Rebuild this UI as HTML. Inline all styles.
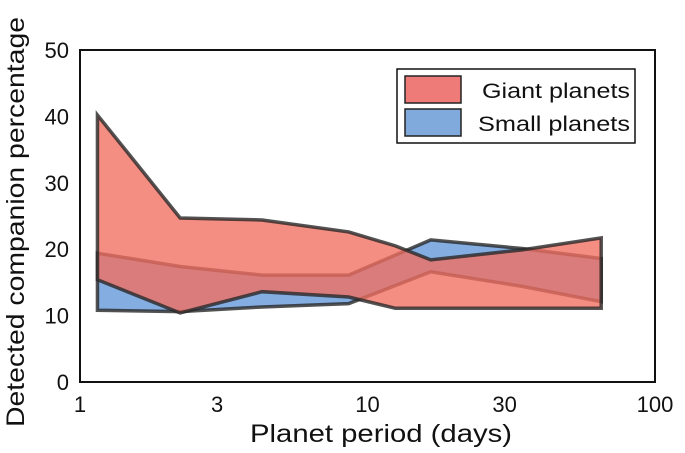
<!DOCTYPE html>
<html><head><meta charset="utf-8"><style>
body{margin:0;background:#fff;}
svg text{font-family:"Liberation Sans",sans-serif;fill:#111;}
</style></head><body>
<svg width="685" height="448">
<g id="plot"></g>
<rect x="80" y="50" width="575" height="332" fill="none" stroke="#111" stroke-width="2"/>
<g id="ticks"></g>
<text x="381" y="442" font-size="25" text-anchor="middle" textLength="262" lengthAdjust="spacingAndGlyphs">Planet period (days)</text>
<text transform="translate(24,222) rotate(-90)" font-size="25" text-anchor="middle" textLength="410" lengthAdjust="spacingAndGlyphs">Detected companion percentage</text>
<g>
<rect x="397" y="69" width="238" height="74" fill="#fff" stroke="#111" stroke-width="1.5"/>
<rect x="405" y="76" width="56" height="27" fill="#ef7b78" stroke="#222" stroke-width="1.5"/>
<text x="482" y="98" font-size="21" textLength="148" lengthAdjust="spacingAndGlyphs">Giant planets</text>
<rect x="405" y="109" width="56" height="27" fill="#80aadc" stroke="#222" stroke-width="1.5"/>
<text x="478" y="131" font-size="21" textLength="152" lengthAdjust="spacingAndGlyphs">Small planets</text>
</g>
</svg>
<script>
const smallX=[1.15,2.23,4.3,8.6,16.6,34.5,65];
const smallUpper=[19.4,17.4,16.1,16.1,21.4,20.1,18.6];
const smallLower=[10.8,10.6,11.3,11.8,16.6,14.4,12.1];
const giantX=[1.15,2.23,4.3,8.6,12.5,16.6,34.5,65];
const giantUpper=[40.2,24.7,24.4,22.6,20.5,18.4,19.9,21.7];
const giantLower=[15.4,10.4,13.6,12.8,11.1,11.1,11.1,11.1];
const yTicks=[0,10,20,30,40,50];
const xTicks=[1,3,10,30,100];
const xs=v=>80+Math.log10(v)*287.5;
const ys=v=>382-v*6.64;
const NS="http://www.w3.org/2000/svg";
const plot=document.getElementById('plot');
function band(X,U,L,fill,name){
  const pts=X.map((x,i)=>xs(x)+','+ys(U[i]));
  for(let i=X.length-1;i>=0;i--)pts.push(xs(X[i])+','+ys(L[i]));
  const p=document.createElementNS(NS,'polygon');
  p.setAttribute('points',pts.join(' '));
  p.setAttribute('fill',fill);
  p.setAttribute('stroke','rgba(40,40,40,0.8)');
  p.setAttribute('stroke-width','3.5');
  p.setAttribute('stroke-linejoin','miter');
  
  
  plot.appendChild(p);
}
band(smallX,smallUpper,smallLower,'rgba(110,160,220,0.85)','small-planets-band');
band(giantX,giantUpper,giantLower,'rgba(242,110,95,0.78)','giant-planets-band');
const tk=document.getElementById('ticks');
yTicks.forEach(v=>{
  const t=document.createElementNS(NS,'text');
  t.setAttribute('x',69);t.setAttribute('y',ys(v)+8);
  t.setAttribute('font-size','22');t.setAttribute('text-anchor','end');
  t.textContent=v;
  
  
  tk.appendChild(t);
});
xTicks.forEach(v=>{
  const t=document.createElementNS(NS,'text');
  t.setAttribute('x',xs(v));t.setAttribute('y',412);
  t.setAttribute('font-size','22');t.setAttribute('text-anchor','middle');
  t.textContent=v;
  
  
  tk.appendChild(t);
});
</script>
</body></html>
